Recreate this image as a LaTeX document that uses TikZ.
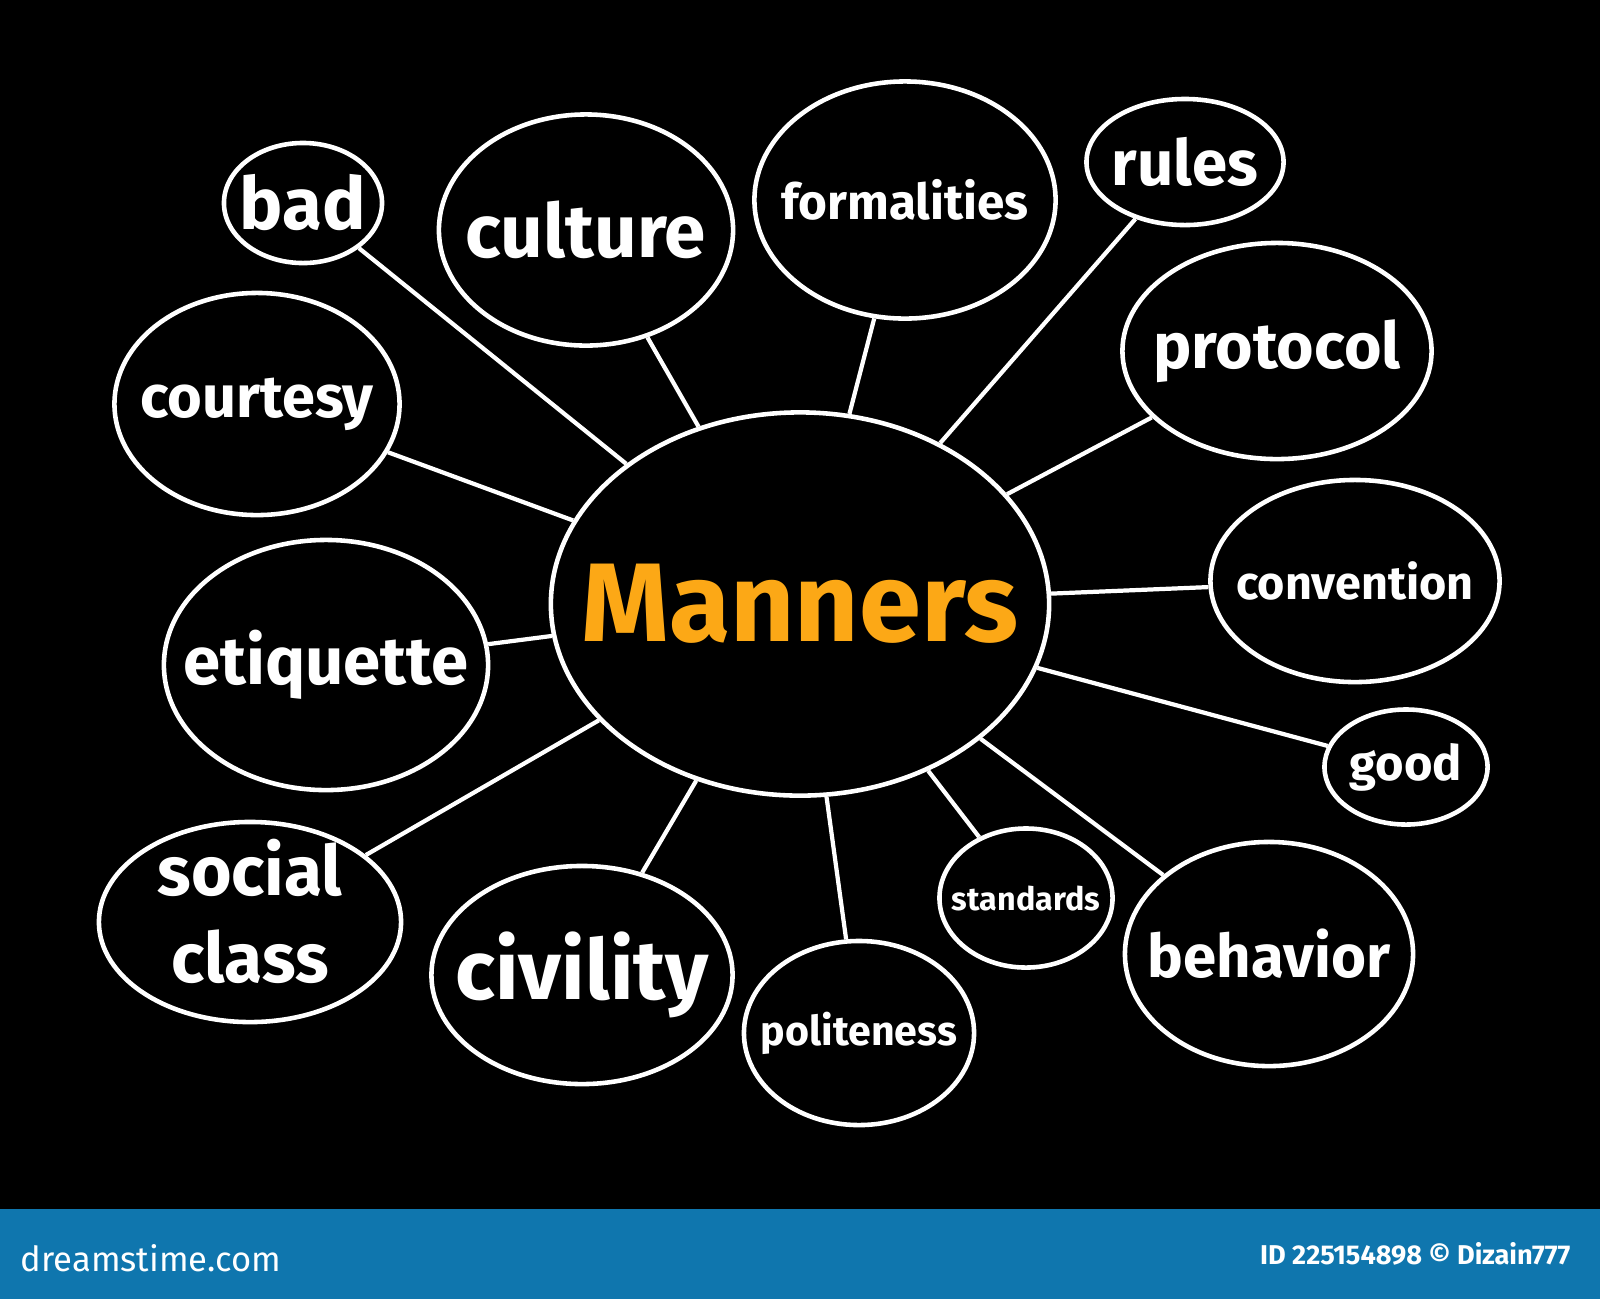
\documentclass[tikz,border=0pt]{standalone}
\usepackage{fontspec}
\usepackage{graphicx}
\setmainfont{Fira Sans}
\usetikzlibrary{shapes.geometric}
\definecolor{barblue}{RGB}{15,118,174}
\definecolor{mannersorange}{RGB}{252,168,22}
\newcommand{\fitw}[2]{\resizebox{#1cm}{!}{#2}}
\tikzset{
  bubble/.style = {ellipse, draw=white, line width=1.3pt, fill=black, inner sep=0pt},
  size/.style 2 args = {minimum width=#1cm, minimum height=#2cm},
  every label/.style = {text=white, font=\bfseries, inner sep=0pt},
  link/.style = {draw=white, line width=1.2pt}
}
\begin{document}
\begin{tikzpicture}[x=0.01cm, y=-0.01cm]
  \useasboundingbox (0,0) rectangle (1600,1299);
  \fill[black] (0,0) rectangle (1600,1209);
  \fill[barblue] (0,1209) rectangle (1600,1299);
  \node[text=white, anchor=west, inner sep=0pt] (site) at (20,1258) {\fitw{2.6}{dreamstime.com}};
  \node[text=white, anchor=east, inner sep=0pt, font=\bfseries] (imgid) at (1571,1254) {\fitw{3.1}{ID 225154898 © Dizain777}};

  \node[bubble, size={4.98}{3.83}, label={center:\fitw{4.37}{\textcolor{mannersorange}{Manners}}}] (manners) at (800,604) {};

  \node[bubble, size={1.58}{1.20}, label={center:\fitw{1.26}{bad}}] (bad) at (303,203) {};
  \node[bubble, size={2.94}{2.31}, label={center:\fitw{2.40}{culture}}] (culture) at (586,230) {};
  \node[bubble, size={3.01}{2.37}, label={center:\fitw{2.47}{formalities}}] (formalities) at (905,200) {};
  \node[bubble, size={1.97}{1.26}, label={center:\fitw{1.46}{rules}}] (rules) at (1185,162) {};
  \node[bubble, size={3.09}{2.16}, label={center:\fitw{2.47}{protocol}}] (protocol) at (1277,351) {};
  \node[bubble, size={2.85}{2.22}, label={center:\fitw{2.33}{courtesy}}] (courtesy) at (257,404) {};
  \node[bubble, size={2.89}{2.02}, label={center:\fitw{2.37}{convention}}] (convention) at (1355,581) {};
  \node[bubble, size={3.24}{2.50}, label={center:\fitw{2.85}{etiquette}}] (etiquette) at (326,665) {};
  \node[bubble, size={1.63}{1.15}, label={center:\fitw{1.12}{good}}] (good) at (1406,767) {};
  \node[bubble, size={3.02}{2.00}, label={center:\fitw{1.85}{\begin{tabular}{@{}c@{}}social\\[0.05em]class\end{tabular}}}] (socialclass) at (250,922) {};
  \node[bubble, size={3.01}{2.18}, label={center:\fitw{2.53}{civility}}] (civility) at (582,975) {};
  \node[bubble, size={1.73}{1.39}, label={center:\fitw{1.48}{standards}}] (standards) at (1026,898) {};
  \node[bubble, size={2.30}{1.84}, label={center:\fitw{1.96}{politeness}}] (politeness) at (859,1033) {};
  \node[bubble, size={2.88}{2.24}, label={center:\fitw{2.42}{behavior}}] (behavior) at (1269,954) {};

  \draw[link] (manners) -- (bad);
  \draw[link] (manners) -- (culture);
  \draw[link] (manners) -- (formalities);
  \draw[link] (manners) -- (rules);
  \draw[link] (manners) -- (protocol);
  \draw[link] (manners) -- (courtesy);
  \draw[link] (manners) -- (convention);
  \draw[link] (manners) -- (etiquette);
  \draw[link] (manners) -- (good);
  \draw[link] (manners) -- (socialclass);
  \draw[link] (manners) -- (civility);
  \draw[link] (manners) -- (standards);
  \draw[link] (manners) -- (politeness);
  \draw[link] (manners) -- (behavior);
\end{tikzpicture}
\end{document}
